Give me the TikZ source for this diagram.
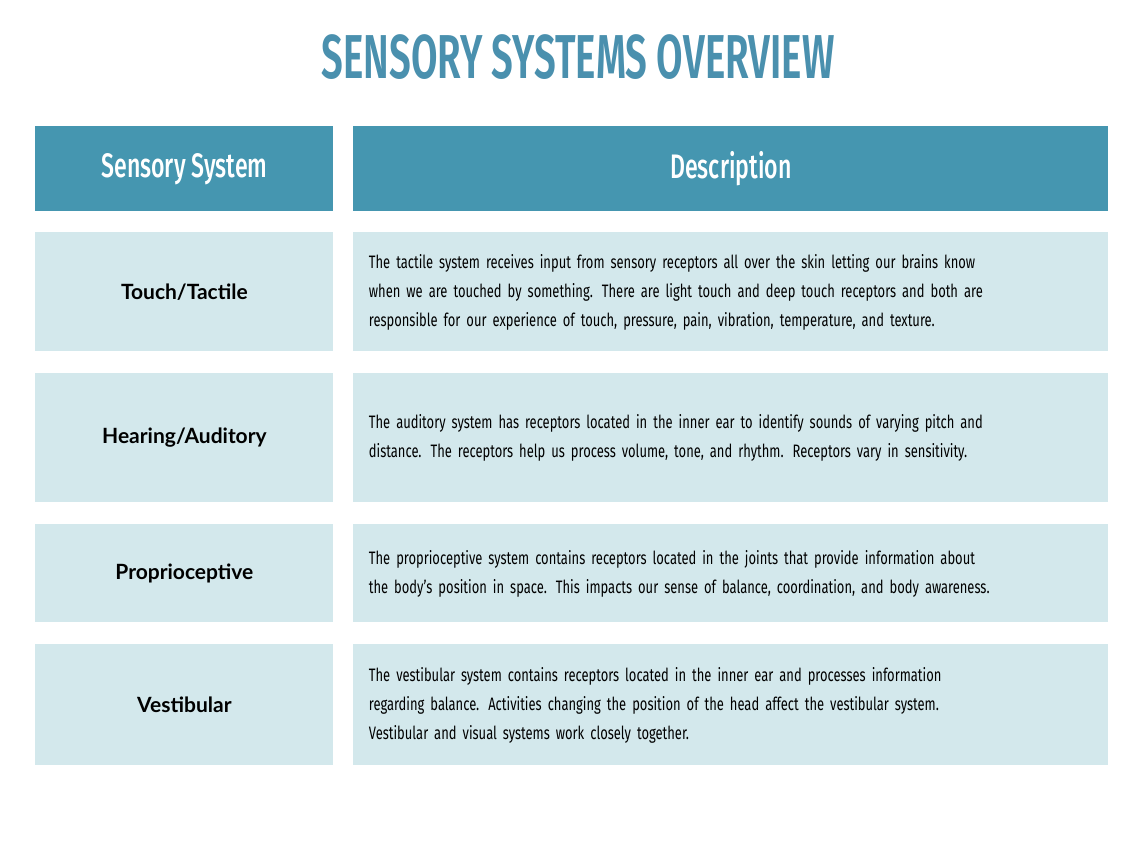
\documentclass[tikz,border=0pt]{standalone}
\usepackage{fontspec}
\setmainfont{Lato}
\newfontfamily\cond[FakeStretch=0.72]{Fira Sans}
\newfontfamily\condm[FakeStretch=0.68]{Fira Sans Medium}
\newfontfamily\titlef[FakeStretch=0.62]{Fira Sans SemiBold}
\definecolor{hdr}{HTML}{4596B0}
\definecolor{rowc}{HTML}{D3E8EC}
\definecolor{ttl}{HTML}{4A90AE}
\tikzset{
 hbox/.style={fill=hdr,draw=none,anchor=north west,inner sep=0pt,text=white,font=\condm\fontsize{17}{20}\selectfont},
 lbox/.style={fill=rowc,draw=none,anchor=north west,inner sep=0pt,font=\bfseries\fontsize{10.5}{13}\selectfont},
 dbox/.style={fill=rowc,draw=none,anchor=north west,inner sep=0pt,text width=376pt,align=left,font=\cond\fontsize{9}{14.5}\selectfont}
}
\begin{document}
\begin{tikzpicture}[x=0.5pt,y=-0.5pt]
\useasboundingbox[fill=white] (0,0) rectangle (1140,848);
\node[font=\titlef\fontsize{31}{34}\selectfont,text=ttl] (title) at (578,57) {SENSORY SYSTEMS OVERVIEW};
\node[hbox,minimum width=149pt,minimum height=42.5pt] (h1) at (35,126) {Sensory System};
\node[hbox,minimum width=377.5pt,minimum height=42.5pt] (h2) at (353,126) {Description};
\node[lbox,minimum width=149pt,minimum height=59.5pt] (l1) at (35,232) {Touch/Tactile};
\node[lbox,minimum width=149pt,minimum height=64.5pt] (l2) at (35,373) {Hearing/Auditory};
\node[lbox,minimum width=149pt,minimum height=49pt] (l3) at (35,524) {Proprioceptive};
\node[lbox,minimum width=149pt,minimum height=60.5pt] (l4) at (35,644) {Vestibular};
\node[dbox,minimum width=377.5pt,minimum height=59.5pt] (d1) at (353,232) {\hspace*{7pt}The tactile system receives input from sensory receptors all over the skin letting our brains know\\\hspace*{7pt}when we are touched by something. There are light touch and deep touch receptors and both are\\\hspace*{7pt}responsible for our experience of touch, pressure, pain, vibration, temperature, and texture.};
\node[dbox,minimum width=377.5pt,minimum height=64.5pt] (d2) at (353,373) {\hspace*{7pt}The auditory system has receptors located in the inner ear to identify sounds of varying pitch and\\\hspace*{7pt}distance. The receptors help us process volume, tone, and rhythm. Receptors vary in sensitivity.\\[12pt]};
\node[dbox,minimum width=377.5pt,minimum height=49pt] (d3) at (353,524) {\hspace*{7pt}The proprioceptive system contains receptors located in the joints that provide information about\\\hspace*{7pt}the body’s position in space. This impacts our sense of balance, coordination, and body awareness.};
\node[dbox,minimum width=377.5pt,minimum height=60.5pt] (d4) at (353,644) {\hspace*{7pt}The vestibular system contains receptors located in the inner ear and processes information\\\hspace*{7pt}regarding balance. Activities changing the position of the head affect the vestibular system.\\\hspace*{7pt}Vestibular and visual systems work closely together.};
\end{tikzpicture}
\end{document}
